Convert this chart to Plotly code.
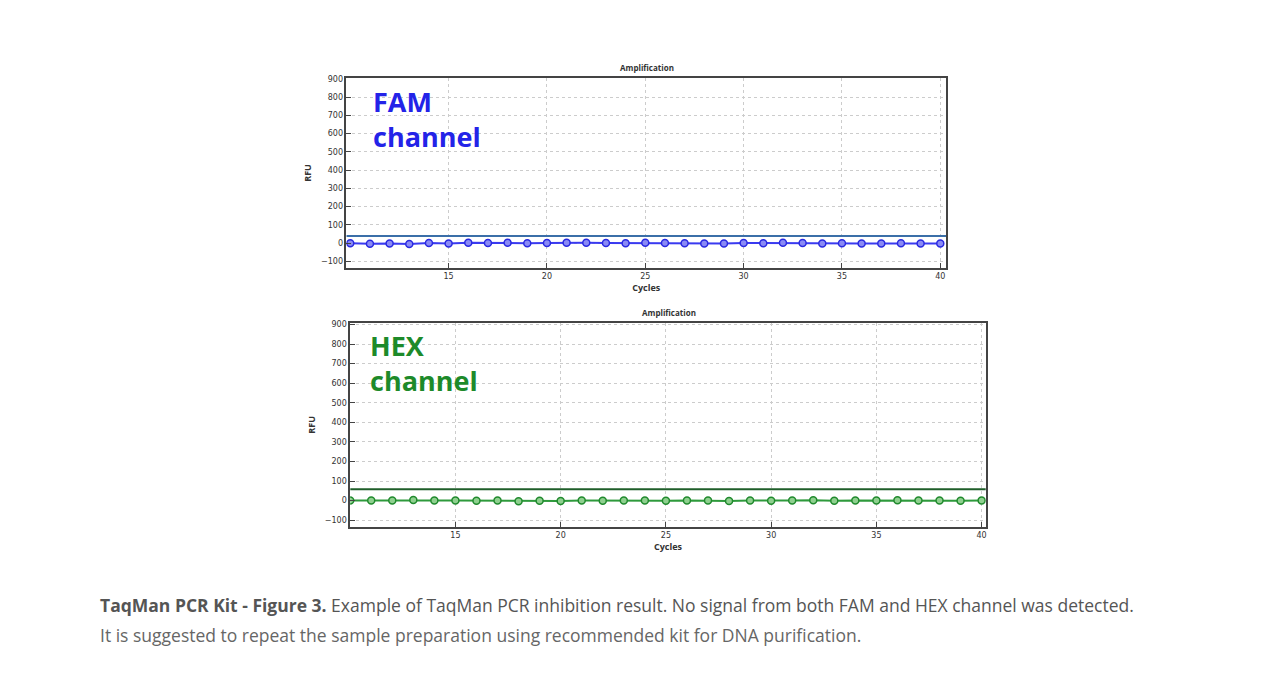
import plotly.graph_objects as go

cycles = list(range(10, 41))
fam_rfu = [0, -3, -1, -4, 1, -2, 3, 1, 2, 0, 1, 3, 2, 1, 0, 2, 1, 0, -2, -1, 1, 0, 2, 1, -1, 0, -2, -1, 0, -2, -1]
hex_rfu = [0, 1, 0, 3, 1, 0, -1, 0, -3, -1, -2, 0, -1, 1, 0, -1, 1, 0, -2, 1, -1, 0, 2, -1, 1, 0, 2, 1, 0, -1, 1]
fam_threshold = 40
hex_threshold = 58
y_ticks = [-100, 0, 100, 200, 300, 400, 500, 600, 700, 800, 900]
x_ticks = [15, 20, 25, 30, 35, 40]

dx = -7 / 1280
dy = 10 / 696

fig = go.Figure()
fig.add_trace(go.Scatter(x=cycles, y=fam_rfu, mode="lines+markers", xaxis="x", yaxis="y",
                         line=dict(color="#3a3af0", width=2),
                         marker=dict(size=7, color="#8a8af5", line=dict(color="#2a2ae0", width=1.5))))
fig.add_trace(go.Scatter(x=[9.8, 40.3], y=[fam_threshold]*2, mode="lines", xaxis="x", yaxis="y",
                         line=dict(color="#3b6fa8", width=2)))
fig.add_trace(go.Scatter(x=cycles, y=hex_rfu, mode="lines+markers", xaxis="x2", yaxis="y2",
                         line=dict(color="#2e9a3c", width=2),
                         marker=dict(size=7, color="#8fd08f", line=dict(color="#218a2e", width=1.5))))
fig.add_trace(go.Scatter(x=[10, 40.2], y=[hex_threshold]*2, mode="lines", xaxis="x2", yaxis="y2",
                         line=dict(color="#1f5e2a", width=2)))

ax = dict(showline=True, linecolor="#444", linewidth=1.5, mirror=True, showgrid=True,
          gridcolor="#ccc", griddash="dot", ticks="inside", zeroline=False,
          tickfont=dict(size=8, family="DejaVu Sans", color="#333"))
fig.update_layout(
    width=1280, height=696, margin=dict(l=0, r=0, t=0, b=0),
    paper_bgcolor="white", plot_bgcolor="white", showlegend=False,
    xaxis=dict(ax, domain=[0.270 + dx, 0.739 + dx], range=[9.8, 40.3], tickvals=x_ticks, anchor="y",
               title=dict(text="<b>Cycles</b>", font=dict(size=9, color="#333"), standoff=2)),
    yaxis=dict(ax, domain=[0.615 + dy, 0.889 + dy], range=[-135, 905], tickvals=y_ticks, anchor="x",
               title=dict(text="<b>RFU</b>", font=dict(size=9, color="#333"), standoff=8)),
    xaxis2=dict(ax, domain=[0.273 + dx, 0.772 + dx - 0.002], range=[10, 40.2], tickvals=x_ticks, anchor="y2",
                title=dict(text="<b>Cycles</b>", font=dict(size=9, color="#333"), standoff=2)),
    yaxis2=dict(ax, domain=[0.241 + dy, 0.536 + dy], range=[-135, 910], tickvals=y_ticks, anchor="x2",
                title=dict(text="<b>RFU</b>", font=dict(size=9, color="#333"), standoff=8)),
)
anns = [
    dict(x=0.505 + dx, y=0.893 + dy, text="<b>Amplification</b>", font=dict(size=8, color="#333")),
    dict(x=0.522 + dx, y=0.540 + dy, text="<b>Amplification</b>", font=dict(size=8, color="#333")),
    dict(x=0.289 + dx, y=0.885 + dy, xanchor="left", yanchor="top", align="left",
         text="<b>FAM<br>channel</b>", font=dict(size=27, color="#2323e8", family="Open Sans")),
    dict(x=0.287 + dx, y=0.532 + dy, xanchor="left", yanchor="top", align="left",
         text="<b>HEX<br>channel</b>", font=dict(size=27, color="#1d8a2a", family="Open Sans")),
    dict(x=90/1280, y=1-597/696, xanchor="left", yanchor="middle", align="left",
         text="<b>TaqMan PCR Kit - Figure 3.</b> Example of TaqMan PCR inhibition result. No signal from both FAM and HEX channel was detected.",
         font=dict(size=17.5, color="#555", family="Open Sans")),
    dict(x=90/1280, y=1-627/696, xanchor="left", yanchor="middle", align="left",
         text="It is suggested to repeat the sample preparation using recommended kit for DNA purification.",
         font=dict(size=17.5, color="#666", family="Open Sans")),
]
for a in anns:
    a.setdefault("xanchor", "center"); a.setdefault("yanchor", "bottom")
    fig.add_annotation(xref="paper", yref="paper", showarrow=False, **a)
fig.write_html("out.html")
